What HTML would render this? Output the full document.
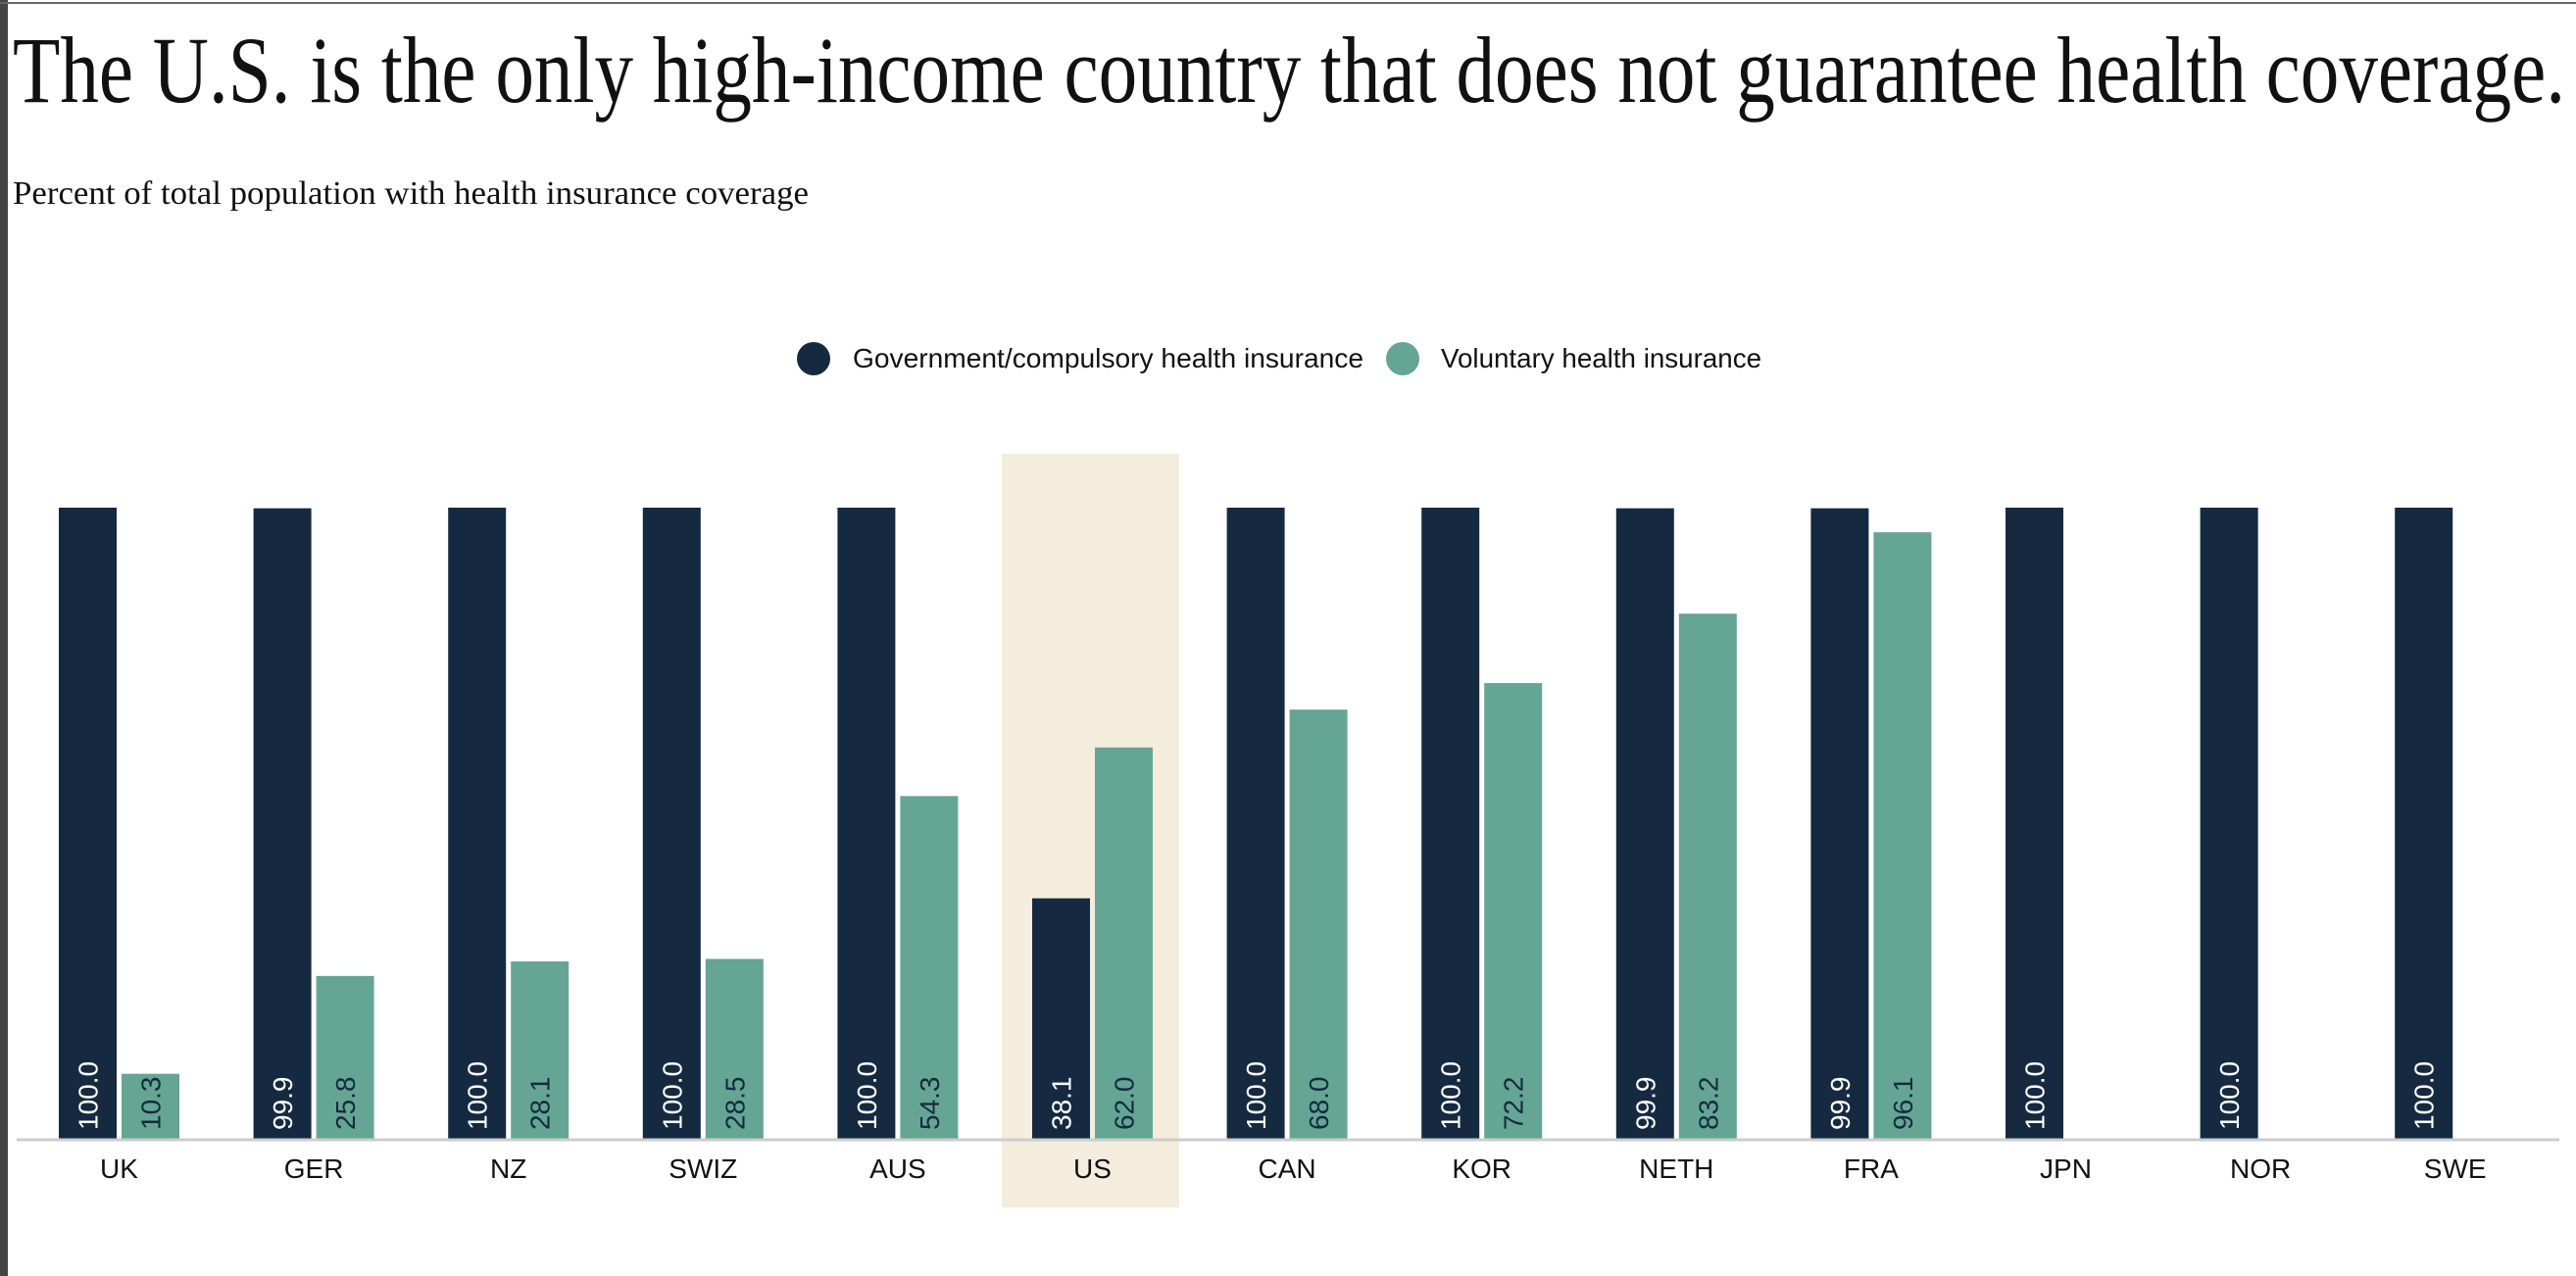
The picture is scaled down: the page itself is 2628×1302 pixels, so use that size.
<!DOCTYPE html>
<html><head><meta charset="utf-8"><style>
html,body{margin:0;padding:0;background:#fff;}
svg{display:block;}
</style></head><body>
<svg id="chart" width="2628" height="1302" viewBox="0 0 2628 1302" xmlns="http://www.w3.org/2000/svg">
<rect x="0" y="0" width="2628" height="1302" fill="#fff"/>
<rect x="0" y="0" width="8" height="1302" fill="#444"/>
<rect x="0" y="2" width="2628" height="2" fill="#666"/>
<text x="13" y="104" font-family="Liberation Serif, serif" font-size="96" fill="#111" textLength="2604" lengthAdjust="spacingAndGlyphs">The U.S. is the only high-income country that does not guarantee health coverage.</text>
<text x="13" y="208" font-family="Liberation Serif, serif" font-size="34" fill="#111" textLength="812" lengthAdjust="spacingAndGlyphs">Percent of total population with health insurance coverage</text>
<g>
<circle cx="830" cy="366" r="17" fill="#152a40"/>
<text x="870" y="375" font-family="Liberation Sans, sans-serif" font-size="28" fill="#111" textLength="521" lengthAdjust="spacingAndGlyphs">Government/compulsory health insurance</text>
<circle cx="1431" cy="366" r="17" fill="#64a593"/>
<text x="1470" y="375" font-family="Liberation Sans, sans-serif" font-size="28" fill="#111" textLength="327" lengthAdjust="spacingAndGlyphs">Voluntary health insurance</text>
</g>
<rect x="1022" y="463" width="181" height="769" fill="#f4ecdc"/>
<g id="bars"></g>
<line x1="17" y1="1163" x2="2611" y2="1163" stroke="#cccccc" stroke-width="3"/>
<g id="labels"></g>
</svg>
<script>
const categories = ["UK","GER","NZ","SWIZ","AUS","US","CAN","KOR","NETH","FRA","JPN","NOR","SWE"];
const govValues = [100.0,99.9,100.0,100.0,100.0,38.1,100.0,100.0,99.9,99.9,100.0,100.0,100.0];
const volValues = [10.3,25.8,28.1,28.5,54.3,62.0,68.0,72.2,83.2,96.1,null,null,null];

const NS = "http://www.w3.org/2000/svg";
const baseY = 1162, topY = 518;
function y(v){ return baseY - (v/100)*(baseY-topY); }
function xGroup(i){ return 60 + i*198.6; }
const barW = 59, gap = 5;
const barsG = document.getElementById('bars');
const labG = document.getElementById('labels');

function addBar(x, v, fill, txtFill, name){
  const r = document.createElementNS(NS,'rect');
  r.setAttribute('x', x); r.setAttribute('y', y(v));
  r.setAttribute('width', barW); r.setAttribute('height', baseY - y(v));
  r.setAttribute('fill', fill);
  
  
  barsG.appendChild(r);
  const t = document.createElementNS(NS,'text');
  const cx = x + barW/2 + 10, by = baseY - 9;
  t.setAttribute('x', cx); t.setAttribute('y', by);
  t.setAttribute('transform', 'rotate(-90 ' + cx + ' ' + by + ')');
  t.setAttribute('font-family', 'Liberation Sans, sans-serif');
  t.setAttribute('font-size', '28');
  t.setAttribute('fill', txtFill);
  t.textContent = v.toFixed(1);
  
  
  barsG.appendChild(t);
}

categories.forEach((c, i) => {
  const x0 = xGroup(i);
  addBar(x0, govValues[i], '#152a40', '#ffffff', 'bar-gov-' + c.toLowerCase());
  if (volValues[i] !== null) addBar(x0 + barW + gap, volValues[i], '#64a593', '#152a40', 'bar-vol-' + c.toLowerCase());
  const t = document.createElementNS(NS,'text');
  t.setAttribute('x', x0 + barW + gap/2); t.setAttribute('y', 1202);
  t.setAttribute('text-anchor', 'middle');
  t.setAttribute('font-family', 'Liberation Sans, sans-serif');
  t.setAttribute('font-size', '28');
  t.setAttribute('fill', '#111');
  t.textContent = c;
  
  
  labG.appendChild(t);
});
</script>
</body></html>
